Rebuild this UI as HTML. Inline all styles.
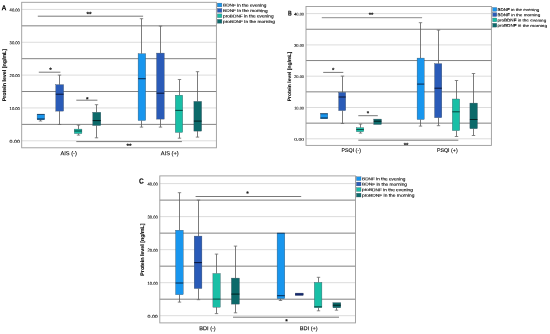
<!DOCTYPE html>
<html><head><meta charset="utf-8"><title>Figure</title>
<style>
html,body{margin:0;padding:0;background:#fff;}
body{width:550px;height:334px;overflow:hidden;}
svg{display:block;font-family:"Liberation Sans","DejaVu Sans",sans-serif;}
text{text-rendering:geometricPrecision;stroke:#000;stroke-width:0.1px;}
</style></head><body>
<svg width="550" height="334" viewBox="0 0 550 334">
<rect width="550" height="334" fill="#fff"/>
<g>
<g class="panel">
<line x1="21.7" x2="216.4" y1="140.80" y2="140.80" stroke="#dcdcdc" stroke-width="1"/>
<line x1="21.7" x2="216.4" y1="107.95" y2="107.95" stroke="#dcdcdc" stroke-width="1"/>
<line x1="21.7" x2="216.4" y1="75.10" y2="75.10" stroke="#dcdcdc" stroke-width="1"/>
<line x1="21.7" x2="216.4" y1="42.25" y2="42.25" stroke="#dcdcdc" stroke-width="1"/>
<line x1="21.7" x2="216.4" y1="9.40" y2="9.40" stroke="#dcdcdc" stroke-width="1"/>
<line x1="21.7" x2="216.4" y1="124.38" y2="124.38" stroke="#747474" stroke-width="0.9"/>
<line x1="21.7" x2="216.4" y1="91.53" y2="91.53" stroke="#747474" stroke-width="0.9"/>
<line x1="21.7" x2="216.4" y1="58.68" y2="58.68" stroke="#747474" stroke-width="0.9"/>
<line x1="21.7" x2="216.4" y1="25.83" y2="25.83" stroke="#747474" stroke-width="0.9"/>
<rect x="21.7" y="2.3" width="194.70" height="145.50" fill="none" stroke="#9a9a9a" stroke-width="0.9"/>
<text transform="rotate(0.2 19.9 142.81)" x="19.9" y="142.81" font-size="4.2" text-anchor="end" textLength="10.3" lengthAdjust="spacingAndGlyphs" fill="#111">0.00</text>
<text transform="rotate(0.2 19.9 109.96)" x="19.9" y="109.96" font-size="4.2" text-anchor="end" textLength="10.3" lengthAdjust="spacingAndGlyphs" fill="#111">10.00</text>
<text transform="rotate(0.2 19.9 77.11)" x="19.9" y="77.11" font-size="4.2" text-anchor="end" textLength="10.3" lengthAdjust="spacingAndGlyphs" fill="#111">20.00</text>
<text transform="rotate(0.2 19.9 44.26)" x="19.9" y="44.26" font-size="4.2" text-anchor="end" textLength="10.3" lengthAdjust="spacingAndGlyphs" fill="#111">30.00</text>
<text transform="rotate(0.2 19.9 11.41)" x="19.9" y="11.41" font-size="4.2" text-anchor="end" textLength="10.3" lengthAdjust="spacingAndGlyphs" fill="#111">40.00</text>
<line x1="40.50" x2="40.50" y1="119.7" y2="121.0" stroke="#5a5a5a" stroke-width="0.8"/>
<line x1="38.80" x2="42.20" y1="121.0" y2="121.0" stroke="#6a6a6a" stroke-width="0.8"/>
<rect x="37.1" y="114.2" width="7.50" height="5.50" fill="#1896ee" stroke="#3a4a5a" stroke-width="0.35"/>
<line x1="37.1" x2="44.6" y1="119.0" y2="119.0" stroke="#082c52" stroke-width="1.05"/>
<line x1="37.1" x2="44.6" y1="114.4" y2="114.4" stroke="#082c52" stroke-width="0.7"/>
<line x1="59.50" x2="59.50" y1="75.1" y2="84.7" stroke="#5a5a5a" stroke-width="0.8"/>
<line x1="57.80" x2="61.20" y1="75.1" y2="75.1" stroke="#6a6a6a" stroke-width="0.8"/>
<line x1="59.50" x2="59.50" y1="111.1" y2="124.5" stroke="#5a5a5a" stroke-width="0.8"/>
<line x1="57.80" x2="61.20" y1="124.5" y2="124.5" stroke="#6a6a6a" stroke-width="0.8"/>
<rect x="55.8" y="84.7" width="7.80" height="26.40" fill="#2a5bb8" stroke="#3a4a5a" stroke-width="0.35"/>
<line x1="55.8" x2="63.6" y1="94.2" y2="94.2" stroke="#0a173c" stroke-width="1.05"/>
<line x1="78.50" x2="78.50" y1="125.1" y2="129.1" stroke="#5a5a5a" stroke-width="0.8"/>
<line x1="76.80" x2="80.20" y1="125.1" y2="125.1" stroke="#6a6a6a" stroke-width="0.8"/>
<line x1="78.50" x2="78.50" y1="133.6" y2="135.1" stroke="#5a5a5a" stroke-width="0.8"/>
<line x1="76.80" x2="80.20" y1="135.1" y2="135.1" stroke="#6a6a6a" stroke-width="0.8"/>
<rect x="74.3" y="129.1" width="7.60" height="4.50" fill="#19bfa6" stroke="#3a4a5a" stroke-width="0.35"/>
<line x1="74.3" x2="81.9" y1="131.0" y2="131.0" stroke="#054a42" stroke-width="1.05"/>
<line x1="96.50" x2="96.50" y1="104.7" y2="112.3" stroke="#5a5a5a" stroke-width="0.8"/>
<line x1="94.80" x2="98.20" y1="104.7" y2="104.7" stroke="#6a6a6a" stroke-width="0.8"/>
<line x1="96.50" x2="96.50" y1="125.5" y2="137.8" stroke="#5a5a5a" stroke-width="0.8"/>
<line x1="94.80" x2="98.20" y1="137.8" y2="137.8" stroke="#6a6a6a" stroke-width="0.8"/>
<rect x="92.8" y="112.3" width="8.00" height="13.20" fill="#0c6a6a" stroke="#3a4a5a" stroke-width="0.35"/>
<line x1="92.8" x2="100.8" y1="120.6" y2="120.6" stroke="#012222" stroke-width="1.05"/>
<line x1="141.50" x2="141.50" y1="18.7" y2="53.7" stroke="#5a5a5a" stroke-width="0.8"/>
<line x1="139.80" x2="143.20" y1="18.7" y2="18.7" stroke="#6a6a6a" stroke-width="0.8"/>
<line x1="141.50" x2="141.50" y1="120.5" y2="127.1" stroke="#5a5a5a" stroke-width="0.8"/>
<line x1="139.80" x2="143.20" y1="127.1" y2="127.1" stroke="#6a6a6a" stroke-width="0.8"/>
<rect x="138.1" y="53.7" width="7.60" height="66.80" fill="#1896ee" stroke="#3a4a5a" stroke-width="0.35"/>
<line x1="138.1" x2="145.7" y1="78.7" y2="78.7" stroke="#082c52" stroke-width="1.05"/>
<line x1="160.50" x2="160.50" y1="26.1" y2="53.1" stroke="#5a5a5a" stroke-width="0.8"/>
<line x1="158.80" x2="162.20" y1="26.1" y2="26.1" stroke="#6a6a6a" stroke-width="0.8"/>
<line x1="160.50" x2="160.50" y1="119.1" y2="127.1" stroke="#5a5a5a" stroke-width="0.8"/>
<line x1="158.80" x2="162.20" y1="127.1" y2="127.1" stroke="#6a6a6a" stroke-width="0.8"/>
<rect x="156.6" y="53.1" width="7.60" height="66.00" fill="#2a5bb8" stroke="#3a4a5a" stroke-width="0.35"/>
<line x1="156.6" x2="164.2" y1="93.2" y2="93.2" stroke="#0a173c" stroke-width="1.05"/>
<line x1="179.50" x2="179.50" y1="79.5" y2="95.2" stroke="#5a5a5a" stroke-width="0.8"/>
<line x1="177.80" x2="181.20" y1="79.5" y2="79.5" stroke="#6a6a6a" stroke-width="0.8"/>
<line x1="179.50" x2="179.50" y1="132.4" y2="138.2" stroke="#5a5a5a" stroke-width="0.8"/>
<line x1="177.80" x2="181.20" y1="138.2" y2="138.2" stroke="#6a6a6a" stroke-width="0.8"/>
<rect x="175.3" y="95.2" width="7.40" height="37.20" fill="#19bfa6" stroke="#3a4a5a" stroke-width="0.35"/>
<line x1="175.3" x2="182.7" y1="110.4" y2="110.4" stroke="#054a42" stroke-width="1.05"/>
<line x1="197.50" x2="197.50" y1="71.7" y2="101.4" stroke="#5a5a5a" stroke-width="0.8"/>
<line x1="195.80" x2="199.20" y1="71.7" y2="71.7" stroke="#6a6a6a" stroke-width="0.8"/>
<line x1="197.50" x2="197.50" y1="131.1" y2="137.1" stroke="#5a5a5a" stroke-width="0.8"/>
<line x1="195.80" x2="199.20" y1="137.1" y2="137.1" stroke="#6a6a6a" stroke-width="0.8"/>
<rect x="193.9" y="101.4" width="7.70" height="29.70" fill="#0c6a6a" stroke="#3a4a5a" stroke-width="0.35"/>
<line x1="193.9" x2="201.6" y1="121.1" y2="121.1" stroke="#012222" stroke-width="1.05"/>
<line x1="37.8" x2="143.1" y1="16.2" y2="16.2" stroke="#6a6a6a" stroke-width="0.9"/>
<text transform="rotate(0.2 89 16.35)" x="89" y="16.35" font-size="6.5" font-weight="bold" text-anchor="middle" fill="#111">**</text>
<line x1="38.8" x2="60.4" y1="72.2" y2="72.2" stroke="#6a6a6a" stroke-width="0.9"/>
<text transform="rotate(0.2 50.6 71.95)" x="50.6" y="71.95" font-size="6.5" font-weight="bold" text-anchor="middle" fill="#111">*</text>
<line x1="76.3" x2="97.4" y1="100.2" y2="100.2" stroke="#6a6a6a" stroke-width="0.9"/>
<text transform="rotate(0.2 87.3 101.55)" x="87.3" y="101.55" font-size="6.5" font-weight="bold" text-anchor="middle" fill="#111">*</text>
<line x1="76.3" x2="181.9" y1="141.6" y2="141.6" stroke="#6a6a6a" stroke-width="0.9"/>
<text transform="rotate(0.2 129 147.95)" x="129" y="147.95" font-size="6.5" font-weight="bold" text-anchor="middle" fill="#111">**</text>
<text transform="rotate(0.2 68.7 155.25)" x="68.7" y="155.25" font-size="5.7" text-anchor="middle" fill="#000">AIS (-)</text>
<text transform="rotate(0.2 169.7 155.25)" x="169.7" y="155.25" font-size="5.7" text-anchor="middle" fill="#000">AIS (+)</text>
<text transform="translate(5.8,75.1) rotate(-90)" font-size="5.2" font-weight="bold" text-anchor="middle" textLength="52.4" lengthAdjust="spacingAndGlyphs" fill="#111">Protein level [ng/mL]</text>
<text transform="rotate(0.2 1.6 10.2)" x="1.6" y="10.2" font-size="7.3" font-weight="bold" textLength="4.9" lengthAdjust="spacingAndGlyphs" fill="#000">A</text>
<rect x="217.3" y="3.1" width="4.6" height="3.8" fill="#1896ee" stroke="#456" stroke-width="0.3"/>
<text transform="rotate(0.2 223.0 6.60)" x="223.0" y="6.60" font-size="4.1" textLength="43.4" lengthAdjust="spacingAndGlyphs" fill="#000">BDNF in the evening</text>
<rect x="217.3" y="8.5" width="4.6" height="3.8" fill="#2a5bb8" stroke="#456" stroke-width="0.3"/>
<text transform="rotate(0.2 223.0 12.00)" x="223.0" y="12.00" font-size="4.1" textLength="44.6" lengthAdjust="spacingAndGlyphs" fill="#000">BDNF in the morning</text>
<rect x="217.3" y="13.9" width="4.6" height="3.8" fill="#19bfa6" stroke="#456" stroke-width="0.3"/>
<text transform="rotate(0.2 223.0 17.40)" x="223.0" y="17.40" font-size="4.1" textLength="50.6" lengthAdjust="spacingAndGlyphs" fill="#000">proBDNF in the evening</text>
<rect x="217.3" y="19.4" width="4.6" height="3.8" fill="#0c6a6a" stroke="#456" stroke-width="0.3"/>
<text transform="rotate(0.2 223.0 22.90)" x="223.0" y="22.90" font-size="4.1" textLength="51.8" lengthAdjust="spacingAndGlyphs" fill="#000">proBDNF in the morning</text>
</g>
<g class="panel">
<line x1="306.0" x2="491.4" y1="138.80" y2="138.80" stroke="#dcdcdc" stroke-width="1"/>
<line x1="306.0" x2="491.4" y1="107.50" y2="107.50" stroke="#dcdcdc" stroke-width="1"/>
<line x1="306.0" x2="491.4" y1="76.20" y2="76.20" stroke="#dcdcdc" stroke-width="1"/>
<line x1="306.0" x2="491.4" y1="44.90" y2="44.90" stroke="#dcdcdc" stroke-width="1"/>
<line x1="306.0" x2="491.4" y1="13.60" y2="13.60" stroke="#dcdcdc" stroke-width="1"/>
<line x1="306.0" x2="491.4" y1="123.15" y2="123.15" stroke="#747474" stroke-width="0.9"/>
<line x1="306.0" x2="491.4" y1="91.85" y2="91.85" stroke="#747474" stroke-width="0.9"/>
<line x1="306.0" x2="491.4" y1="60.55" y2="60.55" stroke="#747474" stroke-width="0.9"/>
<line x1="306.0" x2="491.4" y1="29.25" y2="29.25" stroke="#747474" stroke-width="0.9"/>
<rect x="306.0" y="6.5" width="185.40" height="138.90" fill="none" stroke="#9a9a9a" stroke-width="0.9"/>
<text transform="rotate(0.2 304.0 140.74)" x="304.0" y="140.74" font-size="4.0" text-anchor="end" textLength="9.8" lengthAdjust="spacingAndGlyphs" fill="#111">0.00</text>
<text transform="rotate(0.2 304.0 109.44)" x="304.0" y="109.44" font-size="4.0" text-anchor="end" textLength="9.8" lengthAdjust="spacingAndGlyphs" fill="#111">10.00</text>
<text transform="rotate(0.2 304.0 78.14)" x="304.0" y="78.14" font-size="4.0" text-anchor="end" textLength="9.8" lengthAdjust="spacingAndGlyphs" fill="#111">20.00</text>
<text transform="rotate(0.2 304.0 46.84)" x="304.0" y="46.84" font-size="4.0" text-anchor="end" textLength="9.8" lengthAdjust="spacingAndGlyphs" fill="#111">30.00</text>
<text transform="rotate(0.2 304.0 15.54)" x="304.0" y="15.54" font-size="4.0" text-anchor="end" textLength="9.8" lengthAdjust="spacingAndGlyphs" fill="#111">40.00</text>
<rect x="320.5" y="113.6" width="7.30" height="5.10" fill="#1896ee" stroke="#3a4a5a" stroke-width="0.35"/>
<line x1="320.5" x2="327.8" y1="118.0" y2="118.0" stroke="#082c52" stroke-width="1.05"/>
<line x1="320.5" x2="327.8" y1="113.8" y2="113.8" stroke="#082c52" stroke-width="0.7"/>
<line x1="342.50" x2="342.50" y1="76.1" y2="92.4" stroke="#5a5a5a" stroke-width="0.8"/>
<line x1="340.80" x2="344.20" y1="76.1" y2="76.1" stroke="#6a6a6a" stroke-width="0.8"/>
<line x1="342.50" x2="342.50" y1="110.6" y2="123.5" stroke="#5a5a5a" stroke-width="0.8"/>
<line x1="340.80" x2="344.20" y1="123.5" y2="123.5" stroke="#6a6a6a" stroke-width="0.8"/>
<rect x="338.7" y="92.4" width="7.00" height="18.20" fill="#2a5bb8" stroke="#3a4a5a" stroke-width="0.35"/>
<line x1="338.7" x2="345.7" y1="97.0" y2="97.0" stroke="#0a173c" stroke-width="1.05"/>
<line x1="360.50" x2="360.50" y1="124.1" y2="127.7" stroke="#5a5a5a" stroke-width="0.8"/>
<line x1="358.80" x2="362.20" y1="124.1" y2="124.1" stroke="#6a6a6a" stroke-width="0.8"/>
<line x1="360.50" x2="360.50" y1="131.7" y2="133.1" stroke="#5a5a5a" stroke-width="0.8"/>
<line x1="358.80" x2="362.20" y1="133.1" y2="133.1" stroke="#6a6a6a" stroke-width="0.8"/>
<rect x="356.3" y="127.7" width="7.50" height="4.00" fill="#19bfa6" stroke="#3a4a5a" stroke-width="0.35"/>
<line x1="356.3" x2="363.8" y1="129.5" y2="129.5" stroke="#054a42" stroke-width="1.05"/>
<rect x="373.8" y="119.1" width="7.60" height="5.40" fill="#0c6a6a" stroke="#3a4a5a" stroke-width="0.35"/>
<line x1="373.8" x2="381.4" y1="121.2" y2="121.2" stroke="#012222" stroke-width="1.05"/>
<line x1="420.50" x2="420.50" y1="22.7" y2="58.1" stroke="#5a5a5a" stroke-width="0.8"/>
<line x1="418.80" x2="422.20" y1="22.7" y2="22.7" stroke="#6a6a6a" stroke-width="0.8"/>
<line x1="420.50" x2="420.50" y1="119.5" y2="126.1" stroke="#5a5a5a" stroke-width="0.8"/>
<line x1="418.80" x2="422.20" y1="126.1" y2="126.1" stroke="#6a6a6a" stroke-width="0.8"/>
<rect x="417.1" y="58.1" width="7.10" height="61.40" fill="#1896ee" stroke="#3a4a5a" stroke-width="0.35"/>
<line x1="417.1" x2="424.2" y1="84.1" y2="84.1" stroke="#082c52" stroke-width="1.05"/>
<line x1="438.50" x2="438.50" y1="30.1" y2="63.7" stroke="#5a5a5a" stroke-width="0.8"/>
<line x1="436.80" x2="440.20" y1="30.1" y2="30.1" stroke="#6a6a6a" stroke-width="0.8"/>
<line x1="438.50" x2="438.50" y1="117.7" y2="125.7" stroke="#5a5a5a" stroke-width="0.8"/>
<line x1="436.80" x2="440.20" y1="125.7" y2="125.7" stroke="#6a6a6a" stroke-width="0.8"/>
<rect x="434.6" y="63.7" width="7.20" height="54.00" fill="#2a5bb8" stroke="#3a4a5a" stroke-width="0.35"/>
<line x1="434.6" x2="441.8" y1="88.2" y2="88.2" stroke="#0a173c" stroke-width="1.05"/>
<line x1="456.50" x2="456.50" y1="80.5" y2="99.0" stroke="#5a5a5a" stroke-width="0.8"/>
<line x1="454.80" x2="458.20" y1="80.5" y2="80.5" stroke="#6a6a6a" stroke-width="0.8"/>
<line x1="456.50" x2="456.50" y1="130.6" y2="136.5" stroke="#5a5a5a" stroke-width="0.8"/>
<line x1="454.80" x2="458.20" y1="136.5" y2="136.5" stroke="#6a6a6a" stroke-width="0.8"/>
<rect x="452.3" y="99.0" width="7.40" height="31.60" fill="#19bfa6" stroke="#3a4a5a" stroke-width="0.35"/>
<line x1="452.3" x2="459.7" y1="111.8" y2="111.8" stroke="#054a42" stroke-width="1.05"/>
<line x1="473.50" x2="473.50" y1="73.5" y2="103.1" stroke="#5a5a5a" stroke-width="0.8"/>
<line x1="471.80" x2="475.20" y1="73.5" y2="73.5" stroke="#6a6a6a" stroke-width="0.8"/>
<line x1="473.50" x2="473.50" y1="128.7" y2="135.5" stroke="#5a5a5a" stroke-width="0.8"/>
<line x1="471.80" x2="475.20" y1="135.5" y2="135.5" stroke="#6a6a6a" stroke-width="0.8"/>
<rect x="469.9" y="103.1" width="7.50" height="25.60" fill="#0c6a6a" stroke="#3a4a5a" stroke-width="0.35"/>
<line x1="469.9" x2="477.4" y1="119.5" y2="119.5" stroke="#012222" stroke-width="1.05"/>
<line x1="321.8" x2="422.1" y1="17.7" y2="17.7" stroke="#a2a2a2" stroke-width="1.3"/>
<text transform="rotate(0.2 371 16.80)" x="371" y="16.80" font-size="6.0" font-weight="bold" text-anchor="middle" fill="#111">**</text>
<line x1="323.2" x2="343.3" y1="72.4" y2="72.4" stroke="#6a6a6a" stroke-width="0.9"/>
<text transform="rotate(0.2 333.2 72.00)" x="333.2" y="72.00" font-size="6.0" font-weight="bold" text-anchor="middle" fill="#111">*</text>
<line x1="358.3" x2="377.8" y1="115.7" y2="115.7" stroke="#6a6a6a" stroke-width="0.9"/>
<text transform="rotate(0.2 368 115.20)" x="368" y="115.20" font-size="6.0" font-weight="bold" text-anchor="middle" fill="#111">*</text>
<line x1="358.3" x2="458.3" y1="140.2" y2="140.2" stroke="#6a6a6a" stroke-width="0.9"/>
<text transform="rotate(0.2 406 146.90)" x="406" y="146.90" font-size="6.0" font-weight="bold" text-anchor="middle" fill="#111">**</text>
<text transform="rotate(0.2 351.2 152.11)" x="351.2" y="152.11" font-size="5.3" text-anchor="middle" fill="#000">PSQI (-)</text>
<text transform="rotate(0.2 447.3 152.11)" x="447.3" y="152.11" font-size="5.3" text-anchor="middle" fill="#000">PSQI (+)</text>
<text transform="translate(291.0,76.6) rotate(-90)" font-size="4.95" font-weight="bold" text-anchor="middle" textLength="49.4" lengthAdjust="spacingAndGlyphs" fill="#111">Protein level [ng/mL]</text>
<text transform="rotate(0.2 288.0 15.6)" x="288.0" y="15.6" font-size="7.0" font-weight="bold" textLength="3.7" lengthAdjust="spacingAndGlyphs" fill="#000">B</text>
<rect x="492.6" y="7.5" width="4.2" height="3.8" fill="#1896ee" stroke="#456" stroke-width="0.3"/>
<text transform="rotate(0.2 497.4 11.00)" x="497.4" y="11.00" font-size="3.9" textLength="41.8" lengthAdjust="spacingAndGlyphs" fill="#000">BDNF in the evening</text>
<rect x="492.6" y="12.7" width="4.2" height="3.8" fill="#2a5bb8" stroke="#456" stroke-width="0.3"/>
<text transform="rotate(0.2 497.4 16.20)" x="497.4" y="16.20" font-size="3.9" textLength="42.8" lengthAdjust="spacingAndGlyphs" fill="#000">BDNF in the morning</text>
<rect x="492.6" y="18.0" width="4.2" height="3.8" fill="#19bfa6" stroke="#456" stroke-width="0.3"/>
<text transform="rotate(0.2 497.4 21.50)" x="497.4" y="21.50" font-size="3.9" textLength="48.8" lengthAdjust="spacingAndGlyphs" fill="#000">proBDNF in the evening</text>
<rect x="492.6" y="23.3" width="4.2" height="3.8" fill="#0c6a6a" stroke="#456" stroke-width="0.3"/>
<text transform="rotate(0.2 497.4 26.80)" x="497.4" y="26.80" font-size="3.9" textLength="49.6" lengthAdjust="spacingAndGlyphs" fill="#000">proBDNF in the morning</text>
</g>
<g class="panel">
<line x1="159.8" x2="355.5" y1="315.70" y2="315.70" stroke="#dcdcdc" stroke-width="1"/>
<line x1="159.8" x2="355.5" y1="282.68" y2="282.68" stroke="#dcdcdc" stroke-width="1"/>
<line x1="159.8" x2="355.5" y1="249.65" y2="249.65" stroke="#dcdcdc" stroke-width="1"/>
<line x1="159.8" x2="355.5" y1="216.62" y2="216.62" stroke="#dcdcdc" stroke-width="1"/>
<line x1="159.8" x2="355.5" y1="183.60" y2="183.60" stroke="#dcdcdc" stroke-width="1"/>
<line x1="159.8" x2="355.5" y1="299.19" y2="299.19" stroke="#747474" stroke-width="0.9"/>
<line x1="159.8" x2="355.5" y1="266.16" y2="266.16" stroke="#747474" stroke-width="0.9"/>
<line x1="159.8" x2="355.5" y1="233.14" y2="233.14" stroke="#747474" stroke-width="0.9"/>
<line x1="159.8" x2="355.5" y1="200.11" y2="200.11" stroke="#747474" stroke-width="0.9"/>
<rect x="159.8" y="175.9" width="195.70" height="147.00" fill="none" stroke="#9a9a9a" stroke-width="0.9"/>
<text transform="rotate(0.2 157.8 317.71)" x="157.8" y="317.71" font-size="4.2" text-anchor="end" textLength="10.3" lengthAdjust="spacingAndGlyphs" fill="#111">0.00</text>
<text transform="rotate(0.2 157.8 284.69)" x="157.8" y="284.69" font-size="4.2" text-anchor="end" textLength="10.3" lengthAdjust="spacingAndGlyphs" fill="#111">10.00</text>
<text transform="rotate(0.2 157.8 251.66)" x="157.8" y="251.66" font-size="4.2" text-anchor="end" textLength="10.3" lengthAdjust="spacingAndGlyphs" fill="#111">20.00</text>
<text transform="rotate(0.2 157.8 218.64)" x="157.8" y="218.64" font-size="4.2" text-anchor="end" textLength="10.3" lengthAdjust="spacingAndGlyphs" fill="#111">30.00</text>
<text transform="rotate(0.2 157.8 185.61)" x="157.8" y="185.61" font-size="4.2" text-anchor="end" textLength="10.3" lengthAdjust="spacingAndGlyphs" fill="#111">40.00</text>
<line x1="179.50" x2="179.50" y1="192.7" y2="230.2" stroke="#5a5a5a" stroke-width="0.8"/>
<line x1="177.80" x2="181.20" y1="192.7" y2="192.7" stroke="#6a6a6a" stroke-width="0.8"/>
<line x1="179.50" x2="179.50" y1="294.7" y2="302.1" stroke="#5a5a5a" stroke-width="0.8"/>
<line x1="177.80" x2="181.20" y1="302.1" y2="302.1" stroke="#6a6a6a" stroke-width="0.8"/>
<rect x="175.6" y="230.2" width="7.60" height="64.50" fill="#1896ee" stroke="#3a4a5a" stroke-width="0.35"/>
<line x1="175.6" x2="183.2" y1="283.0" y2="283.0" stroke="#082c52" stroke-width="1.05"/>
<line x1="198.50" x2="198.50" y1="200.1" y2="236.1" stroke="#5a5a5a" stroke-width="0.8"/>
<line x1="196.80" x2="200.20" y1="200.1" y2="200.1" stroke="#6a6a6a" stroke-width="0.8"/>
<line x1="198.50" x2="198.50" y1="288.5" y2="299.7" stroke="#5a5a5a" stroke-width="0.8"/>
<line x1="196.80" x2="200.20" y1="299.7" y2="299.7" stroke="#6a6a6a" stroke-width="0.8"/>
<rect x="194.2" y="236.1" width="7.70" height="52.40" fill="#2a5bb8" stroke="#3a4a5a" stroke-width="0.35"/>
<line x1="194.2" x2="201.9" y1="262.6" y2="262.6" stroke="#0a173c" stroke-width="1.05"/>
<line x1="216.50" x2="216.50" y1="254.1" y2="273.5" stroke="#5a5a5a" stroke-width="0.8"/>
<line x1="214.80" x2="218.20" y1="254.1" y2="254.1" stroke="#6a6a6a" stroke-width="0.8"/>
<line x1="216.50" x2="216.50" y1="307.2" y2="313.6" stroke="#5a5a5a" stroke-width="0.8"/>
<line x1="214.80" x2="218.20" y1="313.6" y2="313.6" stroke="#6a6a6a" stroke-width="0.8"/>
<rect x="212.9" y="273.5" width="7.40" height="33.70" fill="#19bfa6" stroke="#3a4a5a" stroke-width="0.35"/>
<line x1="212.9" x2="220.3" y1="299.1" y2="299.1" stroke="#054a42" stroke-width="1.05"/>
<line x1="235.50" x2="235.50" y1="246.1" y2="278.1" stroke="#5a5a5a" stroke-width="0.8"/>
<line x1="233.80" x2="237.20" y1="246.1" y2="246.1" stroke="#6a6a6a" stroke-width="0.8"/>
<line x1="235.50" x2="235.50" y1="304.1" y2="312.8" stroke="#5a5a5a" stroke-width="0.8"/>
<line x1="233.80" x2="237.20" y1="312.8" y2="312.8" stroke="#6a6a6a" stroke-width="0.8"/>
<rect x="231.4" y="278.1" width="8.00" height="26.00" fill="#0c6a6a" stroke="#3a4a5a" stroke-width="0.35"/>
<line x1="231.4" x2="239.4" y1="294.1" y2="294.1" stroke="#012222" stroke-width="1.05"/>
<line x1="280.50" x2="280.50" y1="298.7" y2="300.5" stroke="#5a5a5a" stroke-width="0.8"/>
<line x1="278.80" x2="282.20" y1="300.5" y2="300.5" stroke="#6a6a6a" stroke-width="0.8"/>
<rect x="277.1" y="233.1" width="7.70" height="65.60" fill="#1896ee" stroke="#3a4a5a" stroke-width="0.35"/>
<line x1="277.1" x2="284.8" y1="295.7" y2="295.7" stroke="#082c52" stroke-width="1.05"/>
<line x1="277.1" x2="284.8" y1="233.29999999999998" y2="233.29999999999998" stroke="#082c52" stroke-width="0.7"/>
<rect x="295.2" y="293.1" width="8.00" height="2.40" fill="#1b2f7a" stroke="#3a4a5a" stroke-width="0.35"/>
<line x1="295.2" x2="303.2" y1="294.3" y2="294.3" stroke="#16276a" stroke-width="1.05"/>
<line x1="318.50" x2="318.50" y1="277.3" y2="282.4" stroke="#5a5a5a" stroke-width="0.8"/>
<line x1="316.80" x2="320.20" y1="277.3" y2="277.3" stroke="#6a6a6a" stroke-width="0.8"/>
<line x1="318.50" x2="318.50" y1="307.6" y2="310.8" stroke="#5a5a5a" stroke-width="0.8"/>
<line x1="316.80" x2="320.20" y1="310.8" y2="310.8" stroke="#6a6a6a" stroke-width="0.8"/>
<rect x="314.3" y="282.4" width="7.60" height="25.20" fill="#19bfa6" stroke="#3a4a5a" stroke-width="0.35"/>
<line x1="314.3" x2="321.9" y1="306.8" y2="306.8" stroke="#054a42" stroke-width="1.05"/>
<line x1="336.50" x2="336.50" y1="307.8" y2="310.2" stroke="#5a5a5a" stroke-width="0.8"/>
<line x1="334.80" x2="338.20" y1="310.2" y2="310.2" stroke="#6a6a6a" stroke-width="0.8"/>
<rect x="332.9" y="302.7" width="7.90" height="5.10" fill="#0c6a6a" stroke="#3a4a5a" stroke-width="0.35"/>
<line x1="332.9" x2="340.8" y1="305.2" y2="305.2" stroke="#012222" stroke-width="1.05"/>
<line x1="195.6" x2="301.2" y1="196.5" y2="196.5" stroke="#6a6a6a" stroke-width="0.9"/>
<text transform="rotate(0.2 247.6 195.85)" x="247.6" y="195.85" font-size="6.5" font-weight="bold" text-anchor="middle" fill="#111">*</text>
<line x1="233.0" x2="339.0" y1="317.2" y2="317.2" stroke="#6a6a6a" stroke-width="0.9"/>
<text transform="rotate(0.2 286.6 323.55)" x="286.6" y="323.55" font-size="6.5" font-weight="bold" text-anchor="middle" fill="#111">*</text>
<text transform="rotate(0.2 207.5 330.22)" x="207.5" y="330.22" font-size="5.6" text-anchor="middle" fill="#000">BDI (-)</text>
<text transform="rotate(0.2 308.7 330.22)" x="308.7" y="330.22" font-size="5.6" text-anchor="middle" fill="#000">BDI (+)</text>
<text transform="translate(144.3,249.6) rotate(-90)" font-size="5.2" font-weight="bold" text-anchor="middle" textLength="52.2" lengthAdjust="spacingAndGlyphs" fill="#111">Protein level [ng/mL]</text>
<text transform="rotate(0.2 139.0 183.5)" x="139.0" y="183.5" font-size="7.3" font-weight="bold" textLength="4.8" lengthAdjust="spacingAndGlyphs" fill="#000">C</text>
<rect x="356.4" y="176.8" width="4.6" height="3.8" fill="#1896ee" stroke="#456" stroke-width="0.3"/>
<text transform="rotate(0.2 362.0 180.30)" x="362.0" y="180.30" font-size="4.1" textLength="43.4" lengthAdjust="spacingAndGlyphs" fill="#000">BDNF in the evening</text>
<rect x="356.4" y="182.1" width="4.6" height="3.8" fill="#2a5bb8" stroke="#456" stroke-width="0.3"/>
<text transform="rotate(0.2 362.0 185.60)" x="362.0" y="185.60" font-size="4.1" textLength="45.0" lengthAdjust="spacingAndGlyphs" fill="#000">BDNF in the morning</text>
<rect x="356.4" y="187.6" width="4.6" height="3.8" fill="#19bfa6" stroke="#456" stroke-width="0.3"/>
<text transform="rotate(0.2 362.0 191.10)" x="362.0" y="191.10" font-size="4.1" textLength="50.8" lengthAdjust="spacingAndGlyphs" fill="#000">proBDNF in the evening</text>
<rect x="356.4" y="193.2" width="4.6" height="3.8" fill="#0c6a6a" stroke="#456" stroke-width="0.3"/>
<text transform="rotate(0.2 362.0 196.70)" x="362.0" y="196.70" font-size="4.1" textLength="52.4" lengthAdjust="spacingAndGlyphs" fill="#000">proBDNF in the morning</text>
</g>
</g>
<defs><filter id="b" x="0" y="0" width="550" height="334" filterUnits="userSpaceOnUse"><feGaussianBlur stdDeviation="0.15"/></filter></defs>
</svg>
</body></html>
